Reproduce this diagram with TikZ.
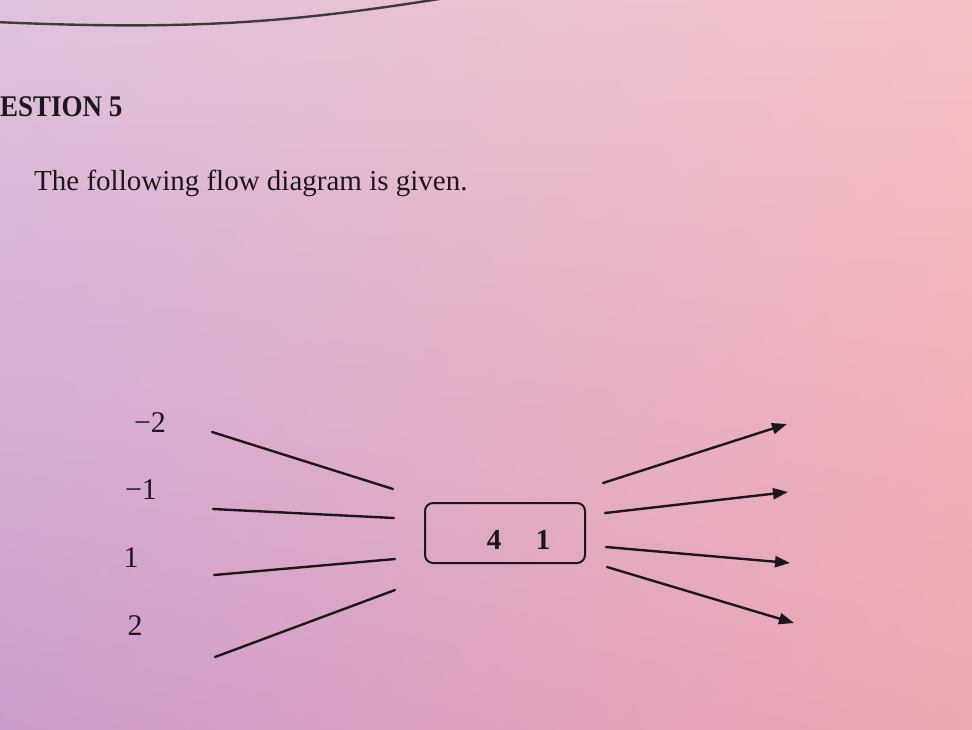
\documentclass[tikz,border=0pt]{standalone}
\usepackage{fontspec}
\usepackage{graphicx}
\setmainfont{Liberation Serif}
\usetikzlibrary{arrows.meta,shadings}
\definecolor{ink}{RGB}{30,22,30}
\definecolor{ulc}{RGB}{224,194,220}
\definecolor{urc}{RGB}{244,192,198}
\definecolor{llc}{RGB}{204,156,204}
\definecolor{lrc}{RGB}{238,166,176}
\begin{document}
\begin{tikzpicture}[x=1pt,y=-1pt,
  lbl/.style={font=\fontsize{30}{34}\selectfont, text=ink, inner sep=0pt},
  wire/.style={draw=ink, line width=2.4pt, line cap=round},
  arr/.style={wire, -{Triangle[length=15pt,width=11pt]}},
  valbox/.style={draw=ink, line width=2pt, rounded corners=8pt, minimum width=160pt, minimum height=60pt, inner sep=0pt}]
\useasboundingbox (0,0) rectangle (972,729);
\shade[upper left=ulc, upper right=urc, lower left=llc, lower right=lrc] (0,0) rectangle (972,729);
% top rule
\coordinate (r0) at (-5,22);
\coordinate (r1) at (470,-6);
\draw[draw=ink!85, line width=2.4pt] (r0) .. controls (200,31) and (300,22) .. (r1);
% headings
\node[lbl, anchor=base west, font=\fontsize{30}{34}\selectfont\bfseries] (q) at (0,116) {\scalebox{0.9}[1]{ESTION 5}};
\node[lbl, anchor=base west, font=\fontsize{29}{34}\selectfont] (intro) at (34,190) {The following flow diagram is given.};
% input values
\node[lbl] (m2) at (150,423) {−2};
\node[lbl] (m1) at (141,490) {−1};
\node[lbl] (p1) at (131,558) {1};
\node[lbl] (p2) at (135,626) {2};
% box
\node[valbox] (box) at (505,533) {};
\node[lbl, font=\fontsize{29}{32}\selectfont\bfseries] (four) at (494,540) {4};
\node[lbl, font=\fontsize{29}{32}\selectfont\bfseries] (one) at (543,540) {1};
% left lines
\coordinate (a1) at (212,432); \coordinate (b1) at (393,489);
\coordinate (a2) at (213,509); \coordinate (b2) at (394,518);
\coordinate (a3) at (214,575); \coordinate (b3) at (395,559);
\coordinate (a4) at (215,657); \coordinate (b4) at (395,590);
\draw[wire] (a1) -- (b1);
\draw[wire] (a2) -- (b2);
\draw[wire] (a3) -- (b3);
\draw[wire] (a4) -- (b4);
% right arrows
\coordinate (c1) at (603,483); \coordinate (d1) at (787,424);
\coordinate (c2) at (605,513); \coordinate (d2) at (788,492);
\coordinate (c3) at (606,547); \coordinate (d3) at (790,563);
\coordinate (c4) at (607,567); \coordinate (d4) at (794,623);
\draw[arr] (c1) -- (d1);
\draw[arr] (c2) -- (d2);
\draw[arr] (c3) -- (d3);
\draw[arr] (c4) -- (d4);
\end{tikzpicture}
\end{document}
